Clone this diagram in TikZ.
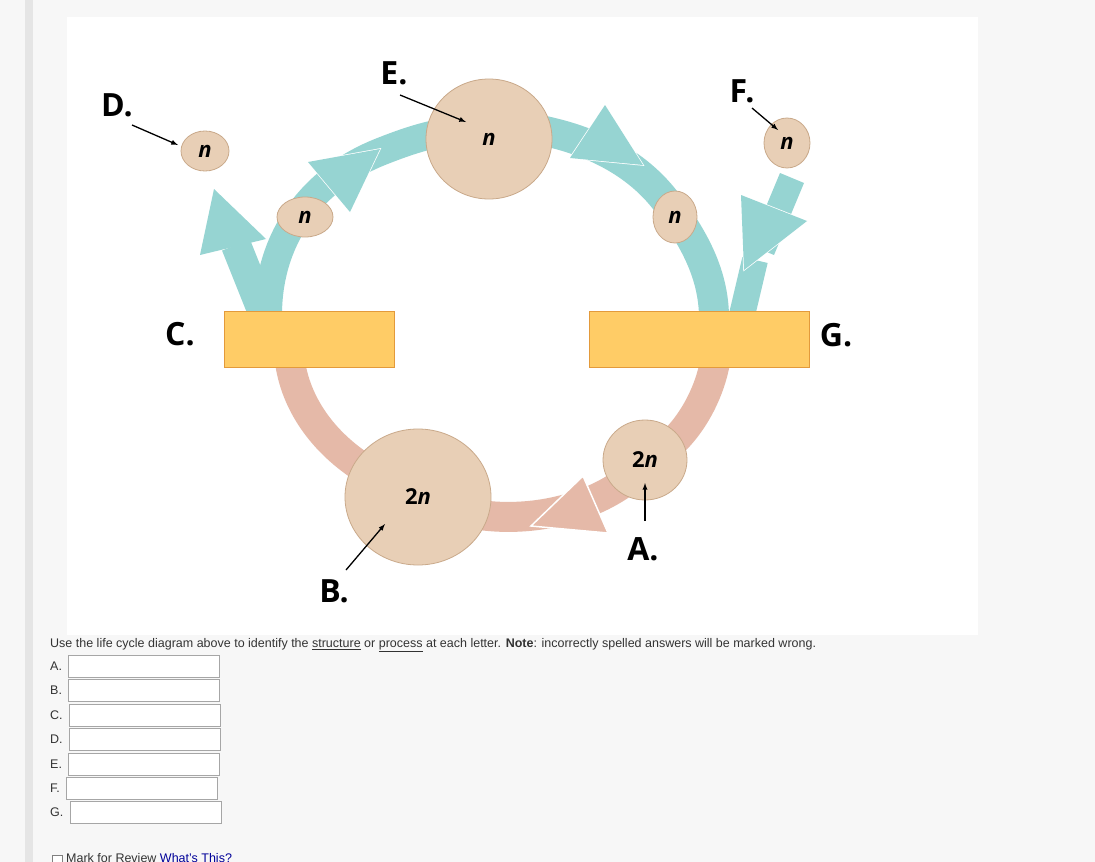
\documentclass[tikz,border=0pt]{standalone}
\usepackage{fontspec}
\setmainfont{Liberation Sans}
\newfontfamily\lbl{Open Sans}
\usetikzlibrary{shapes.geometric}
\definecolor{teal1}{HTML}{96D4D2}
\definecolor{salm}{HTML}{E5B9A8}
\definecolor{cellf}{HTML}{E8CFB6}
\definecolor{celld}{HTML}{C9A98A}
\definecolor{boxf}{HTML}{FFCC66}
\definecolor{boxd}{HTML}{E39A3B}
\tikzset{
 cell/.style={ellipse,fill=cellf,draw=celld,line width=0.8pt,inner sep=0pt,font=\lbl\bfseries\fontsize{22}{22}\selectfont},
 ybox/.style={rectangle,fill=boxf,draw=boxd,line width=1pt,inner sep=0pt},
 letter/.style={font=\lbl\bfseries\fontsize{32}{32}\selectfont,inner sep=0pt},
 ptr/.style={-latex,line width=1.3pt},
 tband/.style={teal1,line width=30pt},
 sband/.style={salm,line width=30pt},
 head/.style={draw=white,line width=1.5pt},
 field/.style={rectangle,draw=gray!70,fill=white,minimum width=151pt,minimum height=22pt,inner sep=0pt,anchor=west},
 flab/.style={font=\fontsize{12.5}{12.5}\selectfont,anchor=west,inner sep=0pt,text=black!80}
}
\begin{document}
\begin{tikzpicture}[x=1pt,y=-1pt]
\fill[black!3] (0,0) rectangle (1095,862);
\useasboundingbox (0,0) rectangle (1095,862);
\fill[black!10] (25,0) rectangle (33,862);
\fill[white] (67,17) rectangle (978,635);
% bands
\draw[tband,line width=28pt] (268,315) .. controls (268,240) and (310,180) .. (380,152) .. controls (420,136) and (445,130) .. (475,130);
\draw[tband] (540,130) .. controls (600,142) and (640,168) .. (665,200) .. controls (700,245) and (713,280) .. (714,315);
\draw[tband] (264,315) -- (236,245);
\fill[teal1] (214,189) -- (200,255) -- (266,239) -- cycle;
\draw[tband,line width=26pt] (792,178) -- (762,250);
\draw[tband,line width=26pt] (755,260) -- (742,315);
\filldraw[teal1,head] (741,195) -- (807,221) -- (744,270) -- cycle;
\fill[teal1] (741,195) -- (807,221) -- (744,270) -- cycle;
\filldraw[teal1,head] (380,149) -- (308,162) -- (350,212) -- cycle;
\fill[teal1] (380,149) -- (308,162) -- (350,212) -- cycle;
\filldraw[teal1,head] (643,165) -- (605,105) -- (570,158) -- cycle;
\fill[teal1] (643,165) -- (605,105) -- (570,158) -- cycle;
\draw[sband] (290,362) .. controls (297,410) and (330,450) .. (375,475);
\draw[sband] (480,515) .. controls (530,522) and (590,510) .. (630,478);
\draw[sband] (715,362) .. controls (710,390) and (695,420) .. (675,440);
\filldraw[salm,head] (531,526) -- (583,476) -- (608,533) -- cycle;
% cells
\node[cell,minimum width=126pt,minimum height=120pt] (E) at (489,139) {\itshape n};
\node[cell,minimum width=48pt,minimum height=40pt] (D) at (205,151) {\itshape n};
\node[cell,minimum width=56pt,minimum height=40pt] (n1) at (305,217) {\itshape n};
\node[cell,minimum width=44pt,minimum height=52pt] (n2) at (675,217) {\itshape n};
\node[cell,minimum width=46pt,minimum height=50pt] (F) at (787,143) {\itshape n};
\node[cell,minimum width=146pt,minimum height=136pt] (B) at (418,497) {2\itshape n};
\node[cell,minimum width=84pt,minimum height=80pt] (A) at (645,460) {2\itshape n};
\node[ybox,minimum width=170pt,minimum height=56pt] (C) at (309,339) {};
\node[ybox,minimum width=220pt,minimum height=56pt] (G) at (699,339) {};
% letters
\node[letter] (lD) at (117,105) {D.};
\node[letter] (lE) at (394,73) {E.};
\node[letter] (lF) at (742,91) {F.};
\node[letter] (lC) at (180,334) {C.};
\node[letter] (lG) at (836,335) {G.};
\node[letter] (lA) at (643,549) {A.};
\node[letter] (lB) at (334,591) {B.};
\coordinate (dD) at (178,145);\coordinate (dE) at (466,122);\coordinate (dF) at (778,130);
\coordinate (dB) at (385,524);\coordinate (dA) at (645,483);
\draw[ptr] (132,125) -- (dD);
\draw[ptr] (400,95) -- (dE);
\draw[ptr] (752,108) -- (dF);
\draw[ptr] (346,570) -- (dB);
\draw[ptr] (645,521) -- (dA);
% question text
\node[flab] (q) at (50,645) {Use the life cycle diagram above to identify the \underline{structure} or \underline{process} at each letter. \textbf{Note}: incorrectly spelled answers will be marked wrong.};
\foreach \l/\y/\x in {A/666/68,B/690/68,C/715/69,D/739/69,E/764/68,F/788/66,G/812/70}{
 \node[flab] at (50,\y) {\l.};
 \node[field] at (\x,\y) {};
}
\node[rectangle,draw=gray,fill=white,minimum size=10pt,inner sep=0pt] (cb) at (57,860) {};
\node[flab,anchor=west] at (66,858) {Mark for Review \textcolor{blue!60!black}{What's This?}};
\end{tikzpicture}
\end{document}
